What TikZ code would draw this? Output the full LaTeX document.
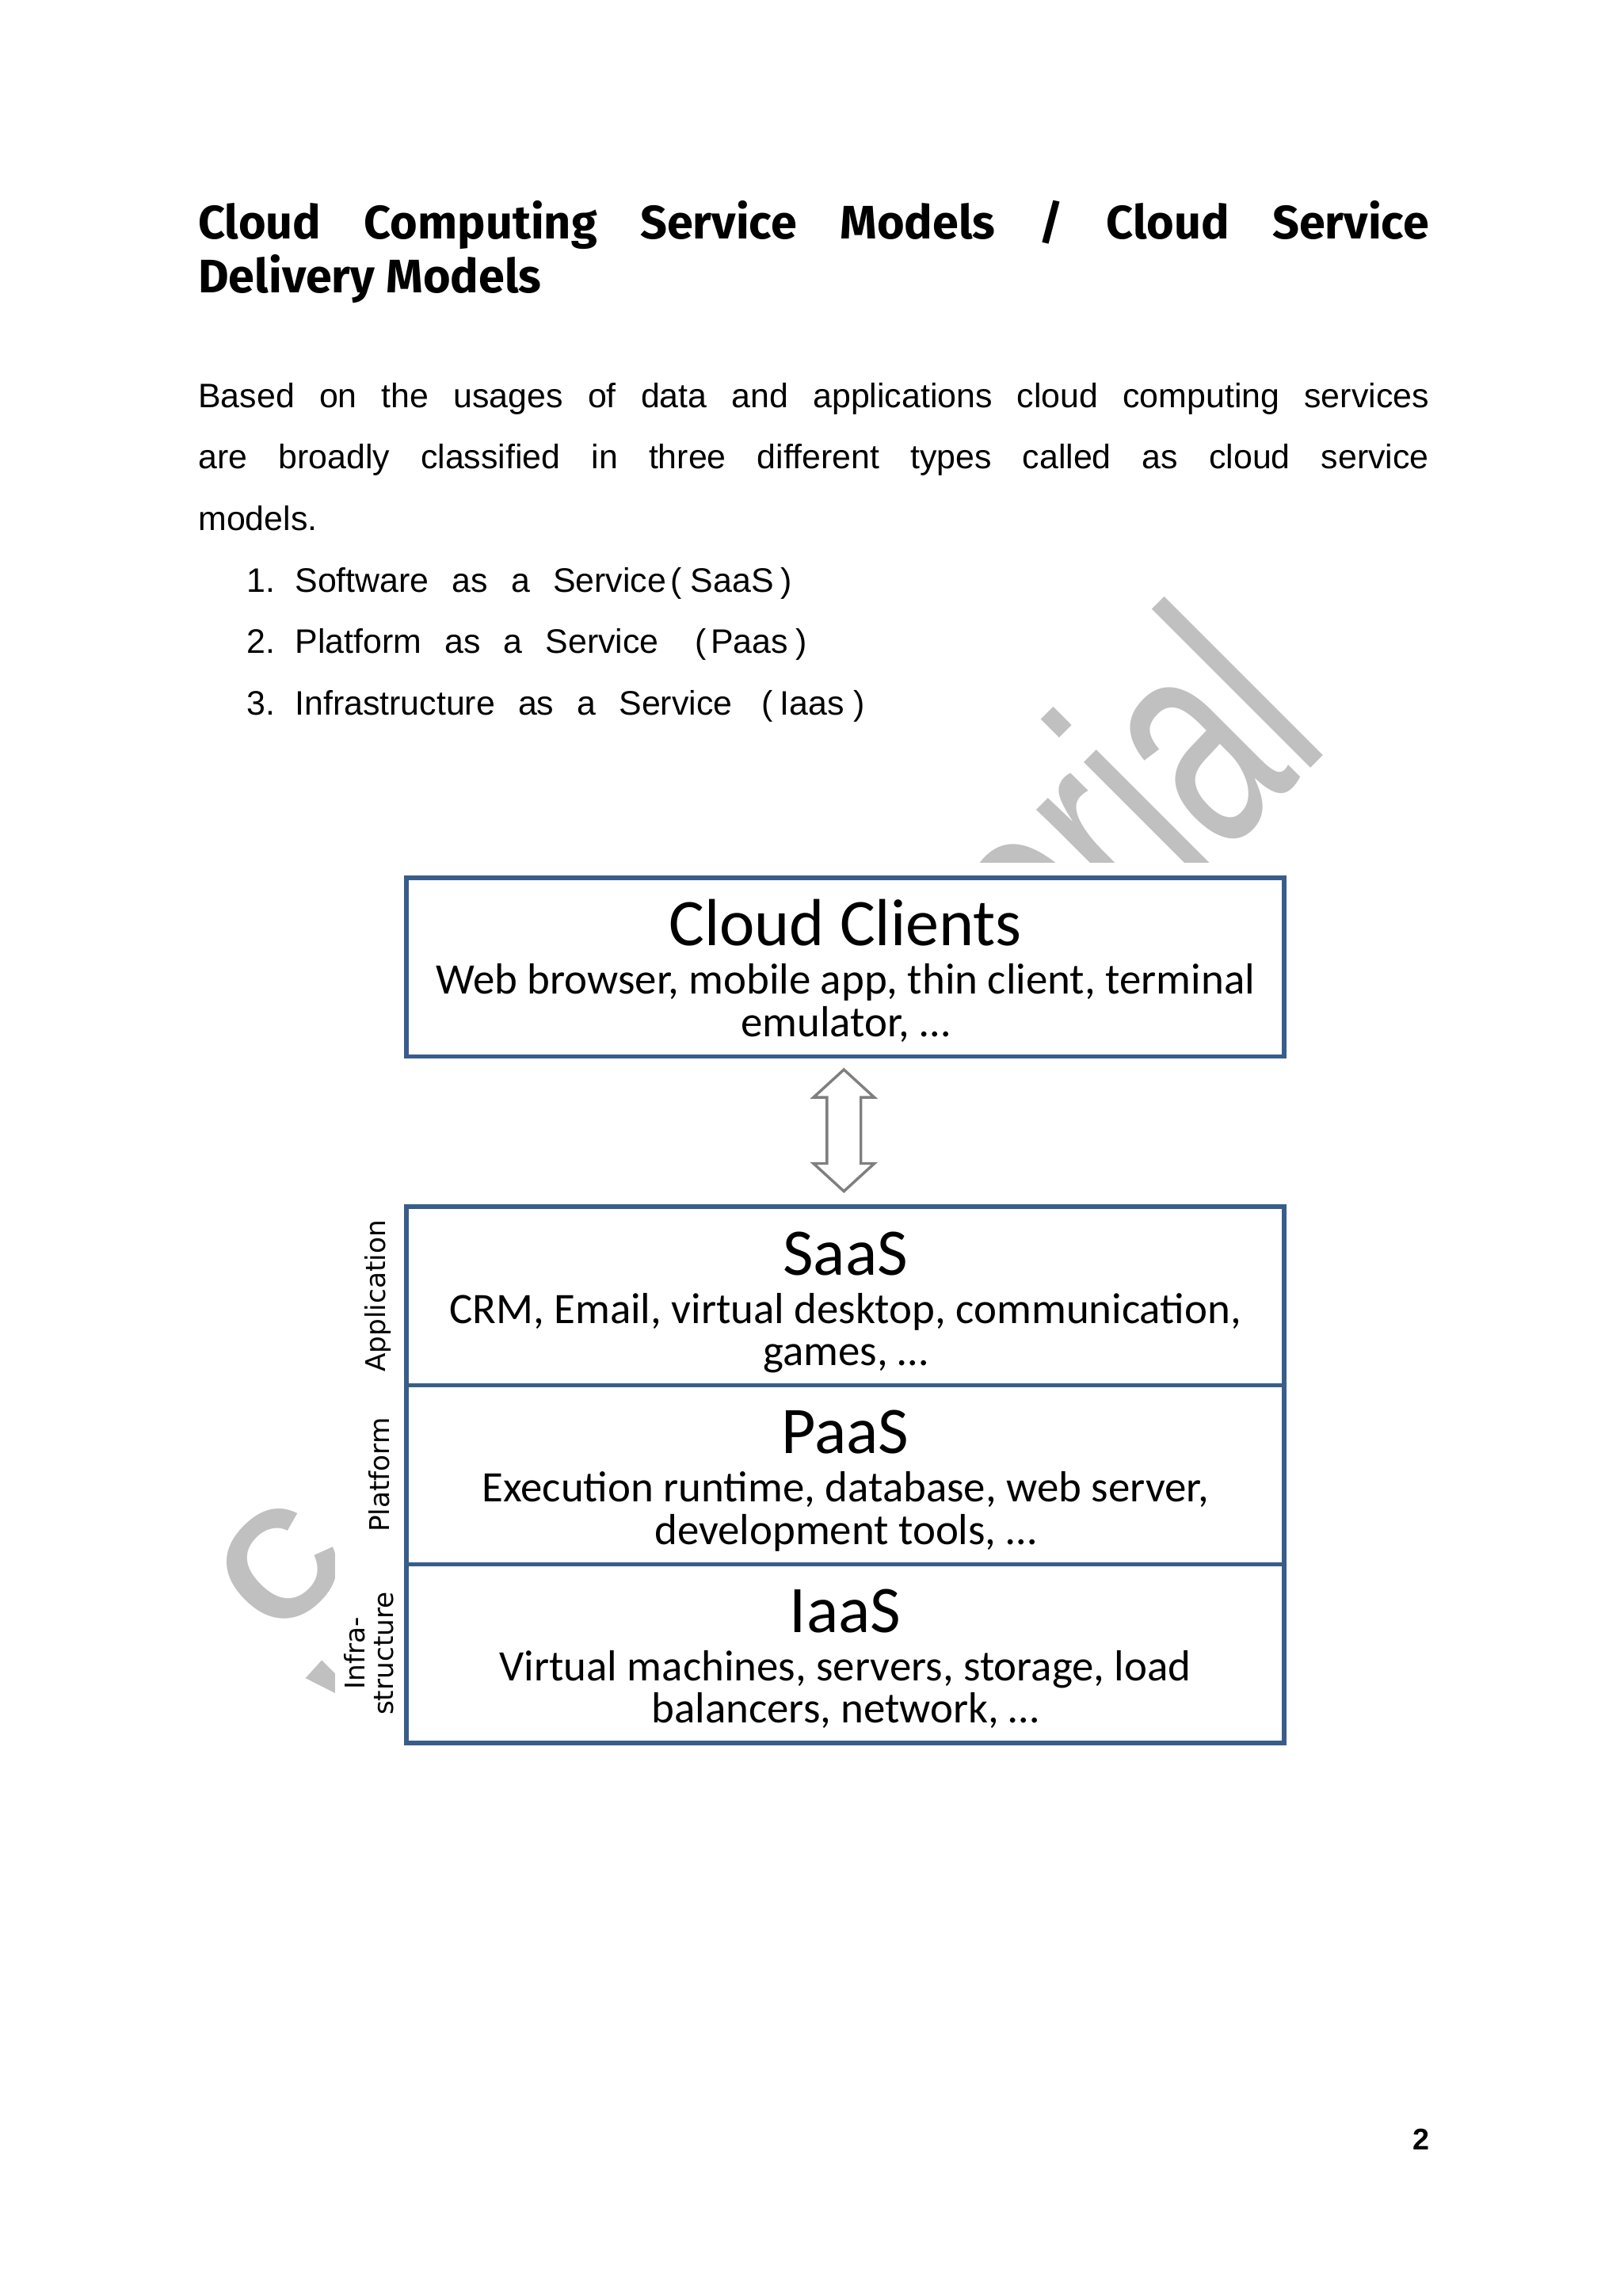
\documentclass[tikz,border=0pt]{standalone}
\usepackage{fontspec}
\setmainfont{Liberation Sans}
\newfontfamily\titlefont{Fira Sans}
\newfontfamily\diagfont{Carlito}
\newfontfamily\sidefont{DejaVu Sans}
\newfontfamily\wmfont[FakeStretch=0.65]{Liberation Sans}
\usetikzlibrary{positioning,calc}
\definecolor{boxblue}{HTML}{385D8A}
\definecolor{linkgray}{HTML}{7F7F7F}
\definecolor{wmgray}{HTML}{C0C0C0}
\tikzset{
  layerbox/.style={draw=boxblue, line width=1.6pt, minimum width=11.353cm, minimum height=2.312cm, inner sep=0pt, outer sep=0pt},
  headtxt/.style={font=\diagfont\fontsize{24.5}{24.5}\selectfont, inner sep=0pt, anchor=base},
  subtxt/.style={font=\diagfont\fontsize{16}{16}\selectfont, inner sep=0pt, anchor=base},
  bodytxt/.style={font=\fontsize{12.5}{14}\selectfont, inner sep=0pt, anchor=base west},
  listtxt/.style={bodytxt, font={\fontsize{12.5}{14}\selectfont\spaceskip=8.5pt\relax}},
  sidetxt/.style={font=\sidefont\fontsize{10}{10.5}\selectfont, inner sep=0pt, rotate=90, align=center},
  wmtext/.style={text=wmgray, inner sep=0pt},
  linkarrow/.style={draw=linkgray, fill=white, line width=1pt, line join=miter}
}
\begin{document}
\begin{tikzpicture}[x=0.018953cm, y=-0.018953cm]
\useasboundingbox (0,0) rectangle (1108,1567);
\fill[white] (0,0) rectangle (1108,1567);

% heading
\node[bodytxt, font=\titlefont\bfseries\fontsize{17.3}{21}\selectfont] (title1) at (135,163) {\makebox[15.92cm][s]{Cloud Computing Service Models / Cloud Service}};
\node[bodytxt, font=\titlefont\bfseries\fontsize{17.3}{21}\selectfont] (title2) at (135,200) {Delivery Models};

% paragraph
\node[bodytxt] (para1) at (135,278) {\makebox[15.92cm][s]{Based on the usages of data and applications cloud computing services}};
\node[bodytxt] (para2) at (135,320) {\makebox[15.92cm][s]{are broadly classified in three different types called as cloud service}};
\node[bodytxt] (para3) at (135,362) {models.};

% list
\node[bodytxt] (num1) at (168,404) {1.};
\node[listtxt] (item1) at (201,404) {Software as a Service\hspace{1.6pt}(\hspace{3.2pt}SaaS\hspace{2.7pt})};
\node[bodytxt] (num2) at (168,446) {2.};
\node[listtxt] (item2) at (201,446) {Platform as a Service\hspace{13.3pt}(\hspace{1.7pt}Paas\hspace{2.8pt})};
\node[bodytxt] (num3) at (168,488) {3.};
\node[listtxt] (item3) at (201,488) {Infrastructure as a Service\hspace{10.7pt}(\hspace{2.7pt}Iaas\hspace{3.5pt})};

% watermark, partly under the figure
\node[wmtext, font=\wmfont\fontsize{114}{114}\selectfont, anchor=base east, rotate=45] (wmword) at (910,508.6) {orial};
\node[wmtext, font=\bfseries\fontsize{56}{56}\selectfont, rotate=45] (wmletter) at (191.4,1068.7) {C};
\fill[wmgray] (208.5,1145.3) -- (219.6,1133.1) -- (228.7,1142.2) -- (228.7,1155.5) -- cycle;
\fill[white] (228.8,588.6) rectangle (910,1205);

% layers
\node[layerbox] (clients) at (577,660) {};
\node[layerbox, below=1.943cm of clients] (saas) {};
\node[layerbox, below=0pt of saas] (paas) {};
\node[layerbox, below=0pt of paas] (iaas) {};

\node[headtxt] (clientshead) at ($(clients.north)+(0,46.5)$) {Cloud Clients};
\node[subtxt] (clientsline1) at ($(clients.north)+(0,79.5)$) {Web browser, mobile app, thin client, terminal};
\node[subtxt] (clientsline2) at ($(clients.north)+(0,108.5)$) {emulator, …};

\node[headtxt] (saashead) at ($(saas.north)+(0,46.5)$) {SaaS};
\node[subtxt] (saasline1) at ($(saas.north)+(0,79.5)$) {CRM, Email, virtual desktop, communication,};
\node[subtxt] (saasline2) at ($(saas.north)+(0,108.5)$) {games, …};

\node[headtxt] (paashead) at ($(paas.north)+(0,46.5)$) {PaaS};
\node[subtxt] (paasline1) at ($(paas.north)+(0,79.5)$) {Execution runtime, database, web server,};
\node[subtxt] (paasline2) at ($(paas.north)+(0,108.5)$) {development tools, …};

\node[headtxt] (iaashead) at ($(iaas.north)+(0,46.5)$) {IaaS};
\node[subtxt] (iaasline1) at ($(iaas.north)+(0,79.5)$) {Virtual machines, servers, storage, load};
\node[subtxt] (iaasline2) at ($(iaas.north)+(0,108.5)$) {balancers, network, …};

% side labels
\node[sidetxt] (applab) at ($(saas.west)+(-19.5,0)$) {Application};
\node[sidetxt] (platlab) at ($(paas.west)+(-18.5,0)$) {Platform};
\node[sidetxt] (infralab) at ($(iaas.west)+(-25.5,0)$) {Infra-\\structure};

% hollow double arrow
\coordinate (linktop) at ($(clients.south)+(-1,9)$);
\coordinate (linkbot) at ($(saas.north)+(-1,-10.5)$);
\draw[linkarrow] (linktop) -- ++(20.8,19) -- ++(-9.2,0) -- ($(linkbot)+(11.6,-19)$) -- ++(9.2,0) -- (linkbot)
  -- ++(-20.8,-19) -- ++(9.2,0) -- ($(linktop)+(-11.6,19)$) -- ++(-9.2,0) -- cycle;

% page number
\node[bodytxt, font=\bfseries\fontsize{11}{13}\selectfont] (pagenum) at (964,1467) {2};
\end{tikzpicture}
\end{document}
